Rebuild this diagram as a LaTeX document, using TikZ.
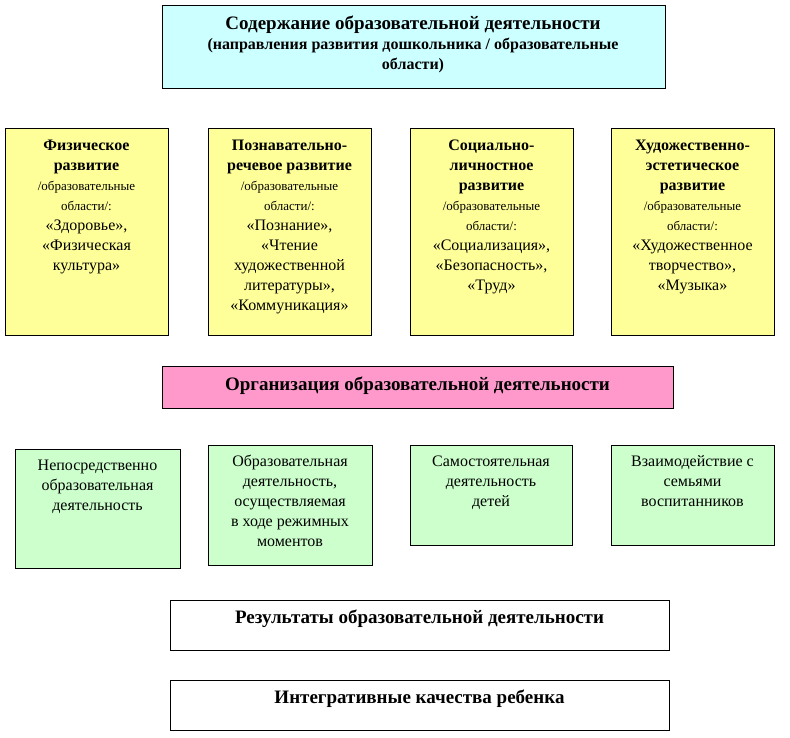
\documentclass[tikz,border=0pt]{standalone}
\usepackage{fontspec}
\setmainfont{Liberation Serif}
\newcommand\smf{\fontsize{13}{20}\selectfont}
\begin{document}
\begin{tikzpicture}[x=1pt,y=-1pt,
  box/.style={draw=black,line width=0.8pt,inner sep=0pt},
  txt/.style={align=center,font=\fontsize{16}{20}\selectfont,anchor=north},
  big/.style={font=\bfseries\fontsize{19}{22}\selectfont}]
\useasboundingbox (0,0) rectangle (790,737);
\definecolor{cy}{HTML}{CCFFFF}\definecolor{ye}{HTML}{FFFF99}
\definecolor{pk}{HTML}{FF99CC}\definecolor{gr}{HTML}{CCFFCC}
\draw[box,fill=cy] (162,5) rectangle (665,88);
\node[txt,font=\bfseries\fontsize{16}{20}\selectfont] (t) at (413,12)
 {{\fontsize{19}{22}\selectfont Содержание образовательной деятельности}\\(направления развития дошкольника / образовательные\\области)};
\foreach \x/\n/\tx in {5/a/{\textbf{Физическое}\\\textbf{развитие}\\{\smf /образовательные}\\{\smf области/:}\\«Здоровье»,\\«Физическая\\культура»},
 208/b/{\textbf{Познавательно-}\\\textbf{речевое развитие}\\{\smf /образовательные}\\{\smf области/:}\\«Познание»,\\«Чтение\\художественной\\литературы»,\\«Коммуникация»},
 410/c/{\textbf{Социально-}\\\textbf{личностное}\\\textbf{развитие}\\{\smf /образовательные}\\{\smf области/:}\\«Социализация»,\\«Безопасность»,\\«Труд»},
 611/d/{\textbf{Художественно-}\\\textbf{эстетическое}\\\textbf{развитие}\\{\smf /образовательные}\\{\smf области/:}\\«Художественное\\творчество»,\\«Музыка»}}{
 \draw[box,fill=ye] (\x,128) rectangle ++(163,207);
 \node[txt] (\n) at (\x+81.5,136) {\tx};}
\draw[box,fill=pk] (162,366) rectangle (673,408);
\node[big] (o) at (417.5,386) {Организация образовательной деятельности};
\draw[box,fill=gr] (15,449) rectangle (180,568);
\node[txt] (g1) at (97.5,456) {Непосредственно\\образовательная\\деятельность};
\draw[box,fill=gr] (208,445) rectangle (372,565);
\node[txt] (g2) at (290,452) {Образовательная\\деятельность,\\осуществляемая\\в ходе режимных\\моментов};
\draw[box,fill=gr] (410,445) rectangle (572,545);
\node[txt] (g3) at (491,452) {Самостоятельная\\деятельность\\детей};
\draw[box,fill=gr] (611,445) rectangle (774,545);
\node[txt] (g4) at (692.5,452) {Взаимодействие с\\семьями\\воспитанников};
\draw[box,fill=white] (170,600) rectangle (669,650);
\node[big] (r) at (419.5,619) {Результаты образовательной деятельности};
\draw[box,fill=white] (170,680) rectangle (669,730);
\node[big] (q) at (419.5,699) {Интегративные качества ребенка};
\end{tikzpicture}
\end{document}
